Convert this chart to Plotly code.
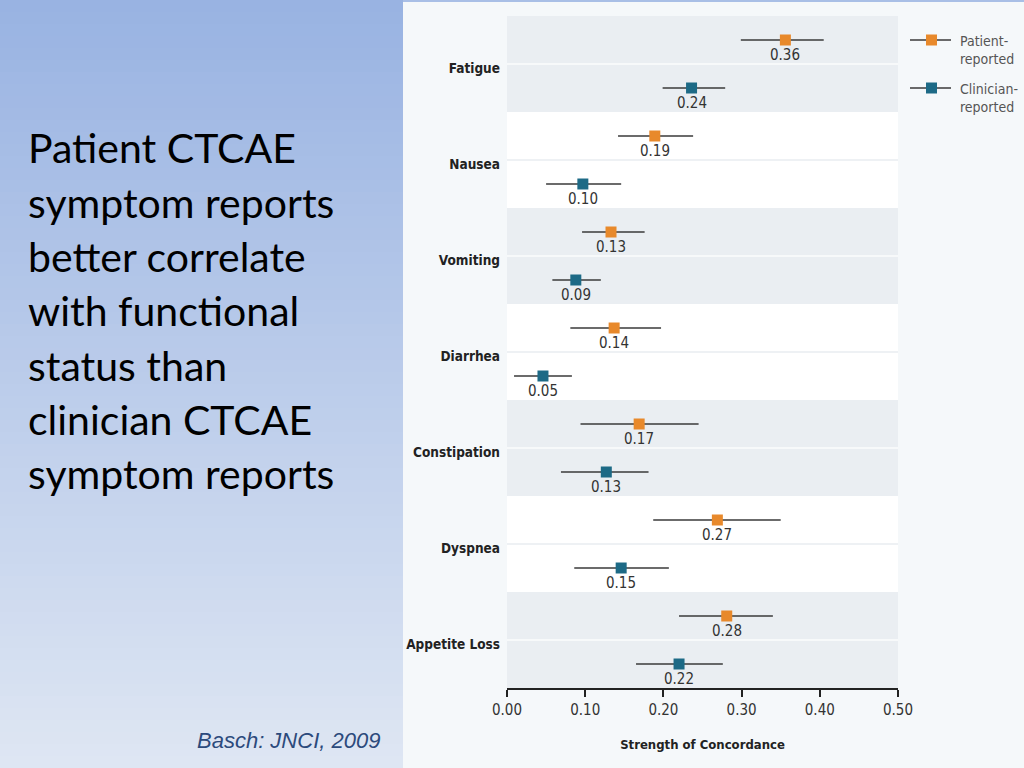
import plotly.graph_objects as go

# ---------------- data ----------------
categories = ["Fatigue", "Nausea", "Vomiting", "Diarrhea", "Constipation", "Dyspnea", "Appetite Loss"]
patient_est = [0.356, 0.189, 0.133, 0.137, 0.169, 0.269, 0.281]
patient_lo = [0.299, 0.142, 0.096, 0.081, 0.094, 0.187, 0.220]
patient_hi = [0.405, 0.238, 0.176, 0.197, 0.245, 0.350, 0.340]
clinician_est = [0.236, 0.097, 0.088, 0.046, 0.127, 0.146, 0.220]
clinician_lo = [0.199, 0.050, 0.058, 0.009, 0.069, 0.086, 0.165]
clinician_hi = [0.279, 0.146, 0.120, 0.083, 0.181, 0.207, 0.276]
x_ticks = [0.0, 0.1, 0.2, 0.3, 0.4, 0.5]
x_ticktext = ["0.00", "0.10", "0.20", "0.30", "0.40", "0.50"]
slide_lines = ["Patient CTCAE", "symptom reports", "better correlate", "with functional",
               "status than", "clinician CTCAE", "symptom reports"]
citation = "Basch: JNCI, 2009"
legend_labels = ["Patient-<br>reported", "Clinician-<br>reported"]

# ---------------- layout constants ----------------
W, H = 1024, 768
L, R, T, B = 507, 126, 16, 80
PW, PH = W - L - R, H - T - B
ORANGE = "#e8892b"
TEAL = "#1d6a86"
BAND = "#eaeef2"
NARROW = "DejaVu Sans Condensed, Liberation Sans Narrow, sans-serif"


def px_x(px):
    return (px - L) / PW


def px_y(py):
    return (H - B - py) / PH


n = len(categories)
ypat = [i + 0.25 for i in range(n)]
ycli = [i + 0.75 for i in range(n)]

fig = go.Figure()

shapes = []
# left gradient panel
steps = 64
top_c = (153, 179, 226)
bot_c = (222, 230, 243)
for k in range(steps):
    t = k / (steps - 1)
    c = tuple(round(top_c[j] + (bot_c[j] - top_c[j]) * t) for j in range(3))
    y0 = k * H / steps
    y1 = (k + 1) * H / steps + 0.5
    shapes.append(dict(type="rect", xref="paper", yref="paper", x0=px_x(0), x1=px_x(403),
                       y0=px_y(y1), y1=px_y(y0), fillcolor="rgb(%d,%d,%d)" % c,
                       line=dict(width=0), layer="below"))
# thin top border of right panel
shapes.append(dict(type="rect", xref="paper", yref="paper", x0=px_x(403), x1=px_x(W),
                   y0=px_y(2), y1=px_y(0), fillcolor="#a9bfe6", line=dict(width=0), layer="below"))

# bands
for i in range(n):
    if i % 2 == 0:
        shapes.append(dict(type="rect", xref="x", yref="y", x0=0, x1=0.5, y0=i, y1=i + 1,
                           fillcolor=BAND, line=dict(width=0), layer="below"))
        mid_col = "#fbfcfd"
    else:
        mid_col = "#e9edf0"
    shapes.append(dict(type="line", xref="x", yref="y", x0=0, x1=0.5, y0=i + 0.5, y1=i + 0.5,
                       line=dict(color=mid_col, width=1.5), layer="below"))

# series
for est, lo, hi, ys, col in [(patient_est, patient_lo, patient_hi, ypat, ORANGE),
                             (clinician_est, clinician_lo, clinician_hi, ycli, TEAL)]:
    fig.add_trace(go.Scatter(
        x=est, y=ys, mode="markers",
        marker=dict(symbol="square", size=11, color=col, line=dict(width=0)),
        error_x=dict(type="data", symmetric=False,
                     array=[h - e for h, e in zip(hi, est)],
                     arrayminus=[e - l for e, l in zip(est, lo)],
                     color="#3a3a3a", thickness=1.4, width=0),
        showlegend=False, hoverinfo="skip"))

annotations = []
for est, ys in [(patient_est, ypat), (clinician_est, ycli)]:
    for v, yv in zip(est, ys):
        annotations.append(dict(x=v, y=yv, xref="x", yref="y", text=f"{v:.2f}", showarrow=False,
                                yshift=-15, font=dict(family=NARROW, size=15, color="#333333")))

# slide text
for k, line in enumerate(slide_lines):
    annotations.append(dict(x=px_x(26), y=px_y(148 + 54.3 * k), xref="paper", yref="paper",
                            xanchor="left", yanchor="middle", text=line, showarrow=False,
                            font=dict(family="Lato, Carlito, sans-serif", size=41, color="#000000")))
annotations.append(dict(x=px_x(382), y=px_y(740), xref="paper", yref="paper",
                        xanchor="right", yanchor="middle", text="<i>" + citation + "</i>",
                        showarrow=False,
                        font=dict(family="Liberation Sans, Arial, sans-serif", size=22, color="#2c4a7c")))

# manual legend
for k, (lab, col) in enumerate(zip(legend_labels, [ORANGE, TEAL])):
    yc = 40 + 48 * k
    shapes.append(dict(type="line", xref="paper", yref="paper", x0=px_x(910), x1=px_x(951),
                       y0=px_y(yc), y1=px_y(yc), line=dict(color="#3a3a3a", width=1.4)))
    shapes.append(dict(type="rect", xref="paper", yref="paper", x0=px_x(926), x1=px_x(937),
                       y0=px_y(yc + 5.5), y1=px_y(yc - 5.5), fillcolor=col, line=dict(width=0)))
    annotations.append(dict(x=px_x(958), y=px_y(yc - 9), xref="paper", yref="paper",
                            xanchor="left", yanchor="top", align="left", text=lab, showarrow=False,
                            font=dict(family=NARROW, size=14, color="#555555")))

fig.update_layout(
    width=W, height=H, autosize=False,
    margin=dict(l=L, r=R, t=T, b=B, pad=0),
    paper_bgcolor="#f5f8fa", plot_bgcolor="#ffffff",
    shapes=shapes, annotations=annotations, showlegend=False,
    xaxis=dict(range=[0, 0.5], tickvals=x_ticks, ticktext=x_ticktext, showgrid=False, zeroline=False,
               showline=True, linecolor="#222222", linewidth=1.5, ticks="outside", ticklen=7,
               tickwidth=1.5, tickcolor="#222222",
               tickfont=dict(family=NARROW, size=15, color="#333333"),
               title=dict(text="Strength of Concordance", standoff=22,
                          font=dict(family=NARROW, size=13, color="#222222", weight="bold")),
               fixedrange=True),
    yaxis=dict(range=[n, 0], tickvals=[i + 0.54 for i in range(n)], ticktext=categories,
               showgrid=False, zeroline=False, showline=False, ticks="", ticklabelstandoff=6,
               tickfont=dict(family=NARROW, size=13.5, color="#222222", weight="bold"),
               fixedrange=True),
)

fig.write_html("out.html")
